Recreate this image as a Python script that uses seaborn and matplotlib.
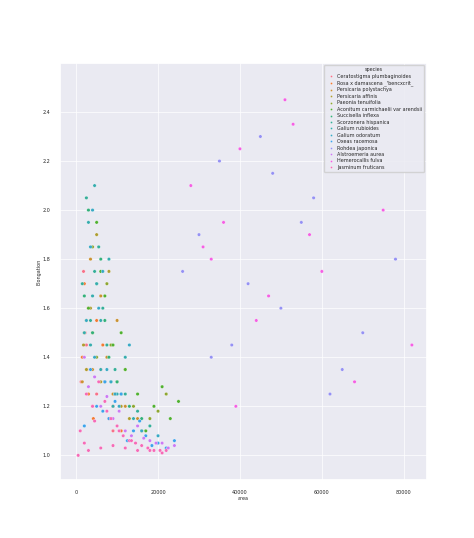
import matplotlib
matplotlib.use("Agg")
import matplotlib.pyplot as plt
import seaborn as sns
import pandas as pd

species = ["Ceratostigma plumbaginoides", "Rosa x damascena _'bencxcrit_",
           "Persicaria polystachya", "Persicaria affinis", "Paeonia tenuifolia",
           "Aconitum carmichaelii var arendsii", "Succisella inflexa",
           "Scorzonera hispanica", "Galium rubioides", "Galium odoratum",
           "Oxeas racemosa", "Rohdea japonica", "Alstroemeria aurea",
           "Hemerocallis fulva", "Jasminum fruticans"]

# area values per species
area = {
    0: [1200, 2500, 4000, 6000, 3000, 8000, 1800, 5000, 9000, 2200],
    1: [1500, 3000, 5000, 7000, 2000, 9000, 4200, 11000, 2600, 6500],
    2: [2000, 4000, 6000, 9000, 12000, 3500, 7500, 15000, 1500, 10000],
    3: [1800, 3500, 6000, 8000, 11000, 2500, 5000, 9500, 13000, 4000],
    4: [2500, 5000, 7500, 10000, 14000, 18000, 22000, 4000, 16000, 12000, 20000, 8500],
    5: [3000, 6000, 9000, 12000, 15000, 19000, 23000, 5000, 17000, 11000, 21000, 7000, 25000],
    6: [2000, 4000, 6000, 8000, 10000, 13000, 3000, 7000, 5000, 11000, 16000],
    7: [1500, 3500, 5500, 7500, 9500, 12000, 2500, 6500, 4500, 8500, 15000, 18000],
    8: [2000, 4000, 6000, 8000, 10000, 12000, 3000, 5000, 7000, 9000, 14000, 6000, 4500, 3500],
    9: [2500, 4500, 6500, 8500, 10500, 13000, 3500, 5500, 7500, 9500, 16000, 20000, 4000],
    10: [2000, 5000, 8000, 11000, 14000, 17000, 20000, 3500, 6500, 9500, 12500, 15500, 18500, 22000, 24000, 7000],
    11: [30000, 35000, 42000, 50000, 58000, 65000, 70000, 78000, 45000, 38000, 55000, 62000, 26000, 33000, 48000],
    12: [3000, 6000, 9000, 12000, 15000, 18000, 21000, 24000, 4500, 7500, 10500, 13500, 16500, 19500, 22500, 2000],
    13: [28000, 33000, 40000, 47000, 53000, 60000, 68000, 75000, 82000, 36000, 44000, 51000, 31000, 39000, 57000],
    14: [1000, 2500, 4000, 5500, 7000, 8500, 10000, 11500, 13000, 14500, 16000, 17500, 19000, 20500, 22000,
         3000, 6000, 9000, 12000, 15000, 18000, 21000, 4500, 7500, 10500, 13500, 500, 2000],
}
elong = {
    0: [1.30, 1.45, 1.20, 1.35, 1.60, 1.15, 1.75, 1.25, 1.10, 1.50],
    1: [1.40, 1.25, 1.55, 1.30, 1.70, 1.20, 1.15, 1.10, 1.35, 1.45],
    2: [1.50, 1.35, 1.65, 1.25, 1.20, 1.80, 1.40, 1.15, 1.30, 1.55],
    3: [1.45, 1.60, 1.30, 1.75, 1.20, 1.35, 1.90, 1.25, 1.15, 1.50],
    4: [1.55, 1.40, 1.70, 1.30, 1.20, 1.15, 1.25, 1.85, 1.10, 1.35, 1.18, 1.45],
    5: [1.60, 1.75, 1.45, 1.35, 1.25, 1.20, 1.15, 1.95, 1.10, 1.50, 1.28, 1.65, 1.22],
    6: [1.65, 1.50, 1.80, 1.40, 1.30, 1.20, 2.00, 1.55, 1.70, 1.25, 1.15],
    7: [1.70, 1.55, 1.85, 1.45, 1.35, 1.25, 2.05, 1.60, 1.75, 1.30, 1.18, 1.12],
    8: [1.50, 1.65, 1.35, 1.80, 1.25, 1.40, 1.95, 1.70, 1.30, 1.20, 1.15, 1.55, 2.10, 1.45],
    9: [1.55, 1.40, 1.75, 1.30, 1.20, 1.45, 1.85, 1.60, 1.35, 1.25, 1.10, 1.08, 2.00],
    10: [1.12, 1.20, 1.15, 1.25, 1.10, 1.08, 1.05, 1.35, 1.18, 1.22, 1.06, 1.14, 1.04, 1.03, 1.06, 1.30],
    11: [1.90, 2.20, 1.70, 1.60, 2.05, 1.35, 1.50, 1.80, 2.30, 1.45, 1.95, 1.25, 1.75, 1.40, 2.15],
    12: [1.28, 1.20, 1.15, 1.10, 1.12, 1.06, 1.05, 1.04, 1.32, 1.24, 1.18, 1.08, 1.07, 1.05, 1.03, 1.40],
    13: [2.10, 1.80, 2.25, 1.65, 2.35, 1.75, 1.30, 2.00, 1.45, 1.95, 1.55, 2.45, 1.85, 1.20, 1.90],
    14: [1.10, 1.25, 1.20, 1.30, 1.22, 1.15, 1.12, 1.08, 1.06, 1.05, 1.04, 1.03, 1.02, 1.02, 1.02,
         1.02, 1.03, 1.04, 1.03, 1.02, 1.02, 1.01, 1.14, 1.18, 1.10, 1.06, 1.00, 1.05],
}

rows = []
for i, name in enumerate(species):
    for a, e in zip(area[i], elong[i]):
        rows.append({"area": a, "Elongation": e, "species": name})
df = pd.DataFrame(rows)

sns.set_theme(style="darkgrid", rc={"grid.linewidth": 0.5})
fig, ax = plt.subplots(figsize=(4.74, 5.38), dpi=100)
plt.subplots_adjust(left=0.127, right=0.90, bottom=0.108, top=0.883)
sns.scatterplot(data=df, x="area", y="Elongation", hue="species", hue_order=species,
                s=6, linewidth=0.2, ax=ax)
ax.set_xlim(-3900, 85600)
ax.set_ylim(0.90, 2.60)
ax.set_xticks([0, 20000, 40000, 60000, 80000])
ax.set_yticks([1.0, 1.2, 1.4, 1.6, 1.8, 2.0, 2.2, 2.4])
ax.tick_params(labelsize=3.5, pad=1)
ax.set_xlabel("area", fontsize=3.5, labelpad=1)
ax.set_ylabel("Elongation", fontsize=3.5, labelpad=1)
leg = ax.legend(title="species", loc="upper right", fontsize=3.5, title_fontsize=3.5,
                markerscale=0.6, handletextpad=0.3, labelspacing=0.3)
fig.savefig("out.png", dpi=100)
